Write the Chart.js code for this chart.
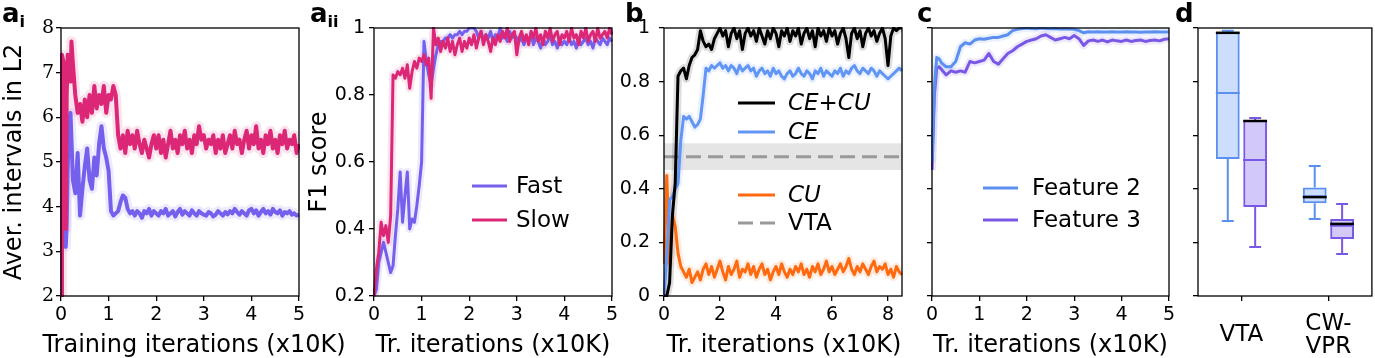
<!DOCTYPE html>
<html lang="en">
<head>
<meta charset="UTF-8">
<title>Training curves and box plots</title>
<script src="https://cdn.jsdelivr.net/npm/chart.js"></script>
<style>
  body { margin: 0; width: 1375px; height: 358px; background: #fff; position: relative; overflow: hidden;
         font-family: "DejaVu Sans", sans-serif; }
  .panel { position: absolute; top: 0; height: 358px; }
  .tag { position: absolute; top: 0; font-weight: bold; font-size: 26px; line-height: 1; color: #000; }
  .tag sub { font-size: 16px; vertical-align: -5px; }
</style>
</head>
<body>
<div class="panel" style="left:0px;width:362px"><canvas id="chartAi"></canvas></div>
<div class="panel" style="left:305px;width:317px"><canvas id="chartAii"></canvas></div>
<div class="panel" style="left:604px;width:308px"><canvas id="chartB"></canvas></div>
<div class="panel" style="left:912px;width:267px"><canvas id="chartC"></canvas></div>
<div class="panel" style="left:1178px;width:197px"><canvas id="chartD"></canvas></div>

<div class="tag" style="left:2px">a<sub>i</sub></div>
<div class="tag" style="left:310px">a<sub>ii</sub></div>
<div class="tag" style="left:625px">b</div>
<div class="tag" style="left:917px">c</div>
<div class="tag" style="left:1175px">d</div>

<script>
// ---- panel a_i : average intervals in L2 ----
const aiIters = [0,0.02,0.04,0.06,0.08,0.1,0.12,0.14,0.16,0.18,0.2,0.22,
  0.25,0.3,0.35,0.4,0.45,0.5,0.55,0.6,0.65,0.7,0.75,0.8,0.85,0.9,0.95,1,
  1.05,1.1,1.15,1.2,1.25,1.3,1.35,1.4,1.45,1.5,1.55,1.6,1.65,1.7,1.75,1.8,1.85,1.9,1.95,2,
  2.05,2.1,2.15,2.2,2.25,2.3,2.35,2.4,2.45,2.5,2.55,2.6,2.65,2.7,2.75,2.8,2.85,2.9,2.95,3,
  3.05,3.1,3.15,3.2,3.25,3.3,3.35,3.4,3.45,3.5,3.55,3.6,3.65,3.7,3.75,3.8,3.85,3.9,3.95,4,
  4.05,4.1,4.15,4.2,4.25,4.3,4.35,4.4,4.45,4.5,4.55,4.6,4.65,4.7,4.75,4.8,4.85,4.9,4.95,5];
const aiSlow = [2.0,7.4,7.3,7.2,5.0,3.5,6.5,7.4,7.0,7.3,6.8,7.7,
  7.2,6.5,6.1,6.3,5.9,6.4,6.0,6.5,6.1,6.7,6.2,6.5,6.3,6.7,6.1,6.5,
  6.4,6.7,6.5,5.6,5.3,5.6,5.2,5.7,5.4,5.6,5.3,5.7,5.4,5.2,5.5,5.3,5.1,5.4,5.6,5.3,
  5.6,5.2,5.5,5.1,5.4,5.7,5.3,5.5,5.2,5.6,5.4,5.7,5.3,5.5,5.2,5.6,5.4,5.8,5.5,5.6,
  5.3,5.5,5.4,5.6,5.2,5.5,5.3,5.6,5.2,5.4,5.6,5.3,5.7,5.4,5.5,5.2,5.5,5.7,5.3,5.6,
  5.4,5.8,5.3,5.5,5.2,5.6,5.4,5.7,5.3,5.5,5.2,5.6,5.4,5.7,5.3,5.5,5.4,5.6,5.2,5.4];
const aiFast = [6.9,6.0,4.8,3.8,3.2,3.1,3.6,4.8,5.6,6.0,6.1,5.5,
  4.6,4.3,5.2,3.8,4.4,4.9,5.3,4.6,4.4,5.1,4.7,5.4,5.8,5.3,5.1,4.8,
  3.9,3.8,3.85,3.9,4.1,4.25,4.2,3.95,3.85,3.9,3.8,3.9,3.85,3.75,3.9,3.85,3.95,3.8,3.9,3.85,
  3.8,3.9,3.85,3.95,3.8,3.85,3.9,3.78,3.88,3.95,3.82,3.9,3.85,3.8,3.92,3.85,3.8,3.9,3.85,3.82,
  3.8,3.88,3.85,3.78,3.82,3.9,3.85,3.8,3.88,3.83,3.9,3.85,3.95,3.88,3.82,3.9,3.85,3.8,3.92,3.95,
  3.85,3.92,3.8,3.88,3.95,3.85,3.9,3.82,3.95,3.88,3.85,3.92,3.8,3.88,3.85,3.9,3.82,3.85,3.8,3.82];

// ---- panel a_ii : F1 score ----
const aiiIters = [0,0.05,0.1,0.15,0.2,0.25,0.3,0.35,0.4,0.45,0.5,0.55,0.6,0.65,0.7,0.75,0.8,0.85,0.9,0.95,
  1,1.05,1.1,1.15,1.2,1.25,1.3,1.35,1.4,1.45,1.5,1.55,1.6,1.65,1.7,1.75,1.8,1.85,1.9,1.95,
  2,2.05,2.1,2.15,2.2,2.25,2.3,2.35,2.4,2.45,2.5,2.55,2.6,2.65,2.7,2.75,2.8,2.85,2.9,2.95,
  3,3.05,3.1,3.15,3.2,3.25,3.3,3.35,3.4,3.45,3.5,3.55,3.6,3.65,3.7,3.75,3.8,3.85,3.9,3.95,
  4,4.05,4.1,4.15,4.2,4.25,4.3,4.35,4.4,4.45,4.5,4.55,4.6,4.65,4.7,4.75,4.8,4.85,4.9,4.95,5];
const aiiSlow = [0.2,0.28,0.33,0.42,0.38,0.41,0.36,0.44,0.86,0.85,0.87,0.86,0.88,0.85,0.89,0.82,0.87,0.9,0.88,0.91,
  0.9,0.92,0.89,0.91,0.79,1.0,0.95,0.97,0.93,0.96,0.94,0.97,0.93,0.96,0.92,0.95,0.97,0.93,0.96,0.94,
  0.97,0.95,0.98,0.94,0.97,0.99,0.95,0.98,0.96,0.93,0.97,0.95,0.98,0.96,0.99,0.97,1.0,0.96,0.98,0.99,
  0.92,0.97,0.99,0.96,0.98,0.95,0.99,0.97,1.0,0.96,0.98,0.95,0.99,0.97,1.0,0.96,0.98,0.99,0.95,0.98,
  0.97,0.99,0.96,1.0,0.97,0.98,0.95,0.99,0.97,1.0,0.96,0.98,0.99,0.96,1.0,0.97,0.98,0.99,0.97,1.0,0.98];
const aiiFast = [0.2,0.22,0.3,0.33,0.36,0.33,0.3,0.27,0.29,0.38,0.46,0.57,0.42,0.5,0.57,0.4,0.43,0.42,0.47,0.53,
  0.6,0.96,0.9,0.86,0.83,0.88,0.92,0.95,0.96,0.96,0.97,0.97,0.98,0.97,0.98,0.98,0.99,0.98,0.99,0.99,
  1.0,1.0,1.0,0.99,0.97,0.99,0.96,0.98,0.97,0.99,0.96,0.98,0.97,1.0,0.97,0.98,0.96,0.99,0.97,0.98,
  0.97,0.96,0.97,0.95,0.97,0.96,0.98,0.95,0.97,0.96,0.94,0.97,0.95,0.96,0.98,0.95,0.96,0.94,0.97,0.95,
  0.96,0.95,0.97,0.95,0.96,0.94,0.97,0.95,0.96,0.97,0.95,0.96,0.94,0.97,0.96,0.95,0.97,0.96,0.95,0.97,0.96];

// ---- panel b : readout F1 ----
const bIters = [0,0.1,0.2,0.3,0.4,0.5,0.6,0.7,0.8,0.9,
  1,1.1,1.2,1.3,1.4,1.5,1.6,1.7,1.8,1.9, 2,2.1,2.2,2.3,2.4,2.5,2.6,2.7,2.8,2.9,
  3,3.1,3.2,3.3,3.4,3.5,3.6,3.7,3.8,3.9, 4,4.1,4.2,4.3,4.4,4.5,4.6,4.7,4.8,4.9,
  5,5.1,5.2,5.3,5.4,5.5,5.6,5.7,5.8,5.9, 6,6.1,6.2,6.3,6.4,6.5,6.6,6.7,6.8,6.9,
  7,7.1,7.2,7.3,7.4,7.5,7.6,7.7,7.8,7.9, 8,8.1,8.2,8.3,8.4,8.5];
const bCeCu = [0,0,0.05,0.3,0.42,0.82,0.84,0.85,0.81,0.86,
  0.89,0.9,0.92,0.99,0.95,0.93,0.94,0.92,0.96,0.98, 1.0,0.97,0.99,0.93,0.98,1.0,0.96,0.99,0.92,0.98,
  1.0,0.97,0.99,0.95,1.0,0.97,0.94,0.99,0.96,1.0, 0.98,0.93,0.99,0.97,1.0,0.95,0.99,0.97,1.0,0.94,
  0.98,1.0,0.96,0.99,0.93,1.0,0.97,0.99,0.95,1.0, 0.97,0.99,0.94,0.98,1.0,0.96,0.89,0.98,1.0,0.96,
  0.99,0.93,0.98,1.0,0.97,0.99,0.95,0.98,1.0,0.96, 0.86,0.97,1.0,0.99,1.0,1.0];
const bCe = [0,0.15,0.36,0.37,0.4,0.42,0.58,0.67,0.66,0.67,
  0.65,0.63,0.64,0.66,0.75,0.85,0.84,0.86,0.85,0.86, 0.87,0.85,0.86,0.84,0.86,0.85,0.83,0.86,0.84,0.85,
  0.86,0.84,0.85,0.82,0.84,0.85,0.83,0.84,0.82,0.85, 0.83,0.84,0.82,0.81,0.83,0.84,0.82,0.83,0.85,0.83,
  0.82,0.84,0.83,0.81,0.84,0.83,0.85,0.82,0.84,0.83, 0.82,0.84,0.83,0.85,0.82,0.84,0.83,0.85,0.86,0.84,
  0.83,0.85,0.84,0.83,0.85,0.84,0.82,0.84,0.83,0.82, 0.81,0.82,0.83,0.84,0.85,0.84];
const bCu = [0.12,0.45,0.12,0.3,0.26,0.16,0.11,0.09,0.07,0.1,
  0.05,0.07,0.09,0.06,0.1,0.12,0.08,0.11,0.07,0.1, 0.13,0.09,0.06,0.11,0.08,0.1,0.13,0.07,0.1,0.09,
  0.12,0.08,0.11,0.07,0.1,0.12,0.08,0.1,0.06,0.09, 0.11,0.08,0.12,0.09,0.07,0.1,0.08,0.11,0.09,0.12,
  0.08,0.1,0.07,0.11,0.09,0.12,0.08,0.1,0.13,0.09, 0.11,0.08,0.1,0.12,0.09,0.11,0.14,0.1,0.08,0.11,
  0.09,0.12,0.1,0.08,0.11,0.13,0.09,0.11,0.1,0.12, 0.08,0.1,0.07,0.11,0.09,0.08];
const vtaSpan = [0, 8.5];
const vtaMean = 0.52;
const vtaLow = 0.47;
const vtaHigh = 0.57;

// ---- panel c : features ----
const cIters = [0,0.05,0.1,0.15,0.2,
  0.3,0.4,0.5,0.6,0.7,0.8,0.9,1,1.1,1.2, 1.3,1.4,1.5,1.6,1.7,1.8,1.9,2,2.1,2.2,
  2.3,2.4,2.5,2.6,2.7,2.8,2.9,3,3.1,3.2, 3.3,3.4,3.5,3.6,3.7,3.8,3.9,4,4.1,4.2,
  4.3,4.4,4.5,4.6,4.7,4.8,4.9,5];
const cFeature2 = [0.5,0.78,0.89,0.885,0.87,
  0.855,0.855,0.875,0.93,0.945,0.94,0.955,0.96,0.958,0.962, 0.965,0.965,0.97,0.975,0.99,0.995,0.998,1.0,0.998,0.997,
  1.0,0.998,0.997,0.998,0.996,0.997,0.996,0.995,0.99,0.982, 0.986,0.985,0.986,0.985,0.985,0.986,0.985,0.985,0.986,0.985,
  0.985,0.984,0.985,0.985,0.986,0.985,0.985,0.985];
const cFeature3 = [0.47,0.75,0.85,0.855,0.845,
  0.825,0.84,0.835,0.84,0.835,0.875,0.87,0.875,0.88,0.905, 0.875,0.865,0.885,0.905,0.915,0.93,0.94,0.95,0.955,0.96,
  0.97,0.975,0.965,0.955,0.96,0.965,0.96,0.972,0.96,0.935, 0.952,0.955,0.95,0.955,0.948,0.955,0.952,0.95,0.955,0.95,
  0.953,0.955,0.95,0.953,0.955,0.952,0.958,0.96];

// ---- panel d : box plots ----
const dGroups = ['VTA', ['CW-', 'VPR']];
const f2Min = [0.28, 0.287], f2Q1 = [0.511, 0.346], f2Median = [0.982, 0.369], f2Mean = [0.757, 0.372], f2Q3 = [0.985, 0.405], f2Max = [0.99, 0.485];
const f3Min = [0.183, 0.157], f3Q1 = [0.332, 0.213], f3Median = [0.653, 0.269], f3Mean = [0.507, 0.262], f3Q3 = [0.657, 0.287], f3Max = [0.664, 0.343];

// colours
const PURPLE = '#7560ee', PINK = '#dc2777', BLUE_B = '#6196f5', ORANGE = '#ff6a10';
const BLUE_C = '#5b8ff0', PURPLE_C = '#7a58e6';

Chart.defaults.font.family = '"DejaVu Sans", sans-serif';
Chart.defaults.color = '#000';
Chart.defaults.animation = false;

function pts(xs, ys) {
  return xs.map((x, i) => ({ x: x, y: ys[i] }));
}

function fade(hex, a) {
  const n = parseInt(hex.slice(1), 16);
  return 'rgba(' + (n >> 16) + ',' + ((n >> 8) & 255) + ',' + (n & 255) + ',' + a + ')';
}

// black box around the plot area, like matplotlib spines
const framePlugin = {
  id: 'frame',
  afterDraw(chart) {
    const a = chart.chartArea, ctx = chart.ctx;
    ctx.save();
    ctx.strokeStyle = '#000';
    ctx.lineWidth = 1.3;
    ctx.strokeRect(a.left, a.top, a.right - a.left, a.bottom - a.top);
    ctx.restore();
  }
};

// x axis title, free to run wider than the plot (chart.js would squeeze it)
const xTitle = {
  id: 'xTitle',
  afterDraw(chart, args, opts) {
    if (!opts.text) return;
    const a = chart.chartArea, ctx = chart.ctx;
    ctx.save();
    ctx.fillStyle = '#000';
    ctx.font = '24px "DejaVu Sans", sans-serif';
    ctx.textAlign = 'center';
    ctx.textBaseline = 'middle';
    ctx.fillText(opts.text, (a.left + a.right) / 2 + (opts.dx || 0), 346);
    ctx.restore();
  }
};

// legend drawn inside the plot area
const inlineLegend = {
  id: 'inlineLegend',
  afterDraw(chart, args, opts) {
    if (!opts.items) return;
    const ctx = chart.ctx;
    ctx.save();
    opts.items.forEach(it => {
      const ds = chart.data.datasets[it.ds];
      ctx.strokeStyle = ds.borderColor;
      ctx.lineWidth = 3;
      ctx.setLineDash(ds.borderDash || []);
      ctx.beginPath();
      ctx.moveTo(opts.x0, it.y);
      ctx.lineTo(opts.x1, it.y);
      ctx.stroke();
      ctx.setLineDash([]);
      ctx.fillStyle = '#000';
      ctx.font = (it.italic ? 'italic ' : '') + '23px "DejaVu Sans", sans-serif';
      ctx.textBaseline = 'middle';
      ctx.fillText(ds.label, opts.tx, it.y + 1);
    });
    ctx.restore();
  }
};

// whiskers, mean and median lines on top of floating bars
const boxWhiskers = {
  id: 'boxWhiskers',
  afterDatasetsDraw(chart, args, opts) {
    if (!opts.stats) return;
    const ctx = chart.ctx, ys = chart.scales.y;
    ctx.save();
    opts.stats.forEach((st, di) => {
      chart.getDatasetMeta(di).data.forEach((bar, i) => {
        const x = bar.x, half = bar.width / 2, cap = half * 0.5;
        const yMin = ys.getPixelForValue(st.min[i]), yMax = ys.getPixelForValue(st.max[i]);
        const yQ1 = ys.getPixelForValue(st.q1[i]), yQ3 = ys.getPixelForValue(st.q3[i]);
        ctx.strokeStyle = st.color;
        ctx.lineWidth = 2;
        ctx.beginPath();
        ctx.moveTo(x, yQ1); ctx.lineTo(x, yMin);
        ctx.moveTo(x - cap, yMin); ctx.lineTo(x + cap, yMin);
        ctx.moveTo(x, yQ3); ctx.lineTo(x, yMax);
        ctx.moveTo(x - cap, yMax); ctx.lineTo(x + cap, yMax);
        const yMean = ys.getPixelForValue(st.mean[i]);
        ctx.moveTo(x - half, yMean); ctx.lineTo(x + half, yMean);
        ctx.stroke();
        ctx.strokeStyle = '#000';
        ctx.lineWidth = 2.5;
        const yMed = ys.getPixelForValue(st.median[i]);
        ctx.beginPath();
        ctx.moveTo(x - half, yMed); ctx.lineTo(x + half, yMed);
        ctx.stroke();
      });
    });
    ctx.restore();
  }
};

Chart.register(framePlugin, xTitle, inlineLegend, boxWhiskers);

function tickText(v) {
  return String(Number(v.toFixed(2)));
}

function axisX(min, max, step) {
  return {
    type: 'linear', min: min, max: max,
    ticks: { stepSize: step, includeBounds: false, font: { size: 19 }, padding: 3, color: '#000', maxRotation: 0, callback: tickText },
    grid: { drawOnChartArea: false, tickLength: 5, color: '#000', lineWidth: 1.3 },
    border: { display: false },
    afterFit(s) { s.height = 62; }
  };
}

function axisY(min, max, step, o) {
  return {
    min: min, max: max,
    ticks: { stepSize: step, display: o.labels !== false, padding: o.pad || 0, font: o.font || { size: 19 }, color: '#000', callback: tickText },
    grid: { drawOnChartArea: false, tickLength: 5, color: '#000', lineWidth: 1.3 },
    border: { display: false },
    title: { display: !!o.title, text: o.title || '', font: { size: 24 }, padding: 0, color: '#000' },
    afterFit(s) { s.width = o.width; }
  };
}

function line(label, xs, ys, color, width) {
  return { label: label, data: pts(xs, ys), borderColor: color, borderWidth: width, clip: 1 };
}
function halo(xs, ys, color, width) {
  return { label: '', data: pts(xs, ys), borderColor: fade(color, 0.13), borderWidth: width, clip: 0 };
}

function linePanel(id, datasets, xAxis, yAxis, title, legend, padRight) {
  return new Chart(document.getElementById(id), {
    type: 'line',
    data: { datasets: datasets },
    options: {
      responsive: true, maintainAspectRatio: false, animation: false,
      layout: { padding: { top: 28, right: padRight || 10, left: 0, bottom: 0 } },
      elements: { point: { radius: 0 }, line: { tension: 0, borderJoinStyle: 'round' } },
      plugins: { legend: { display: false }, tooltip: { enabled: false }, xTitle: title, inlineLegend: legend || {} },
      scales: { x: xAxis, y: yAxis }
    }
  });
}

// a_i
linePanel('chartAi', [
  line('Slow', aiIters, aiSlow, PINK, 4),
  line('Fast', aiIters, aiFast, PURPLE, 4),
  halo(aiIters, aiSlow, PINK, 10),
  halo(aiIters, aiFast, PURPLE, 10)
], axisX(0, 5, 1),
   axisY(2, 8, 1, { width: 61, pad: 2, title: 'Aver. intervals in L2', font: { family: '"DejaVu Serif", serif', size: 19 } }),
   { text: 'Training iterations (x10K)', dx: 14 }, null, 63);

// a_ii
linePanel('chartAii', [
  line('Slow', aiiIters, aiiSlow, PINK, 3),
  line('Fast', aiiIters, aiiFast, PURPLE, 3),
  halo(aiiIters, aiiSlow, PINK, 8),
  halo(aiiIters, aiiFast, PURPLE, 8)
], axisX(0, 5, 1),
   axisY(0.2, 1, 0.2, { width: 69, pad: 4, title: 'F1 score' }),
   { text: 'Tr. iterations (x10K)' },
   { x0: 167, x1: 202, tx: 211, items: [{ ds: 1, y: 186 }, { ds: 0, y: 220 }] });

// b
linePanel('chartB', [
  line('CE+CU', bIters, bCeCu, '#000000', 3),
  line('CE', bIters, bCe, BLUE_B, 3),
  line('CU', bIters, bCu, ORANGE, 3),
  halo(bIters, bCeCu, '#000000', 8),
  halo(bIters, bCe, BLUE_B, 8),
  halo(bIters, bCu, ORANGE, 8),
  { label: 'VTA', data: pts(vtaSpan, [vtaMean, vtaMean]), borderColor: '#999999', borderWidth: 3, borderDash: [15, 7] },
  { label: '', data: pts(vtaSpan, [vtaHigh, vtaHigh]), borderWidth: 0, borderColor: 'rgba(0,0,0,0)',
    fill: { value: vtaLow }, backgroundColor: 'rgba(0,0,0,0.1)' }
], axisX(0, 8.5, 2),
   axisY(0, 1, 0.2, { width: 60, pad: 9 }),
   { text: 'Tr. iterations (x10K)', dx: 1 },
   { x0: 134, x1: 171, tx: 184, items: [
     { ds: 0, y: 103, italic: true }, { ds: 1, y: 132, italic: true },
     { ds: 2, y: 195, italic: true }, { ds: 6, y: 223 }] });

// c
linePanel('chartC', [
  line('Feature 2', cIters, cFeature2, BLUE_C, 3),
  line('Feature 3', cIters, cFeature3, PURPLE_C, 3),
  halo(cIters, cFeature2, BLUE_C, 8),
  halo(cIters, cFeature3, PURPLE_C, 8)
], axisX(0, 5, 1),
   axisY(0, 1, 0.2, { width: 20, labels: false }),
   { text: 'Tr. iterations (x10K)' },
   { x0: 71, x1: 106, tx: 120, items: [{ ds: 0, y: 188 }, { ds: 1, y: 220 }] });

// d
new Chart(document.getElementById('chartD'), {
  type: 'bar',
  data: {
    labels: dGroups,
    datasets: [
      { label: 'Feature 2', data: f2Q1.map((v, i) => [v, f2Q3[i]]), backgroundColor: 'rgba(110,160,245,0.35)',
        borderColor: BLUE_C, borderWidth: 2, borderSkipped: false },
      { label: 'Feature 3', data: f3Q1.map((v, i) => [v, f3Q3[i]]), backgroundColor: 'rgba(130,100,235,0.35)',
        borderColor: PURPLE_C, borderWidth: 2, borderSkipped: false }
    ]
  },
  options: {
    responsive: true, maintainAspectRatio: false, animation: false,
    layout: { padding: { top: 28, right: 2, left: 0, bottom: 0 } },
    datasets: { bar: { categoryPercentage: 0.63, barPercentage: 0.87 } },
    plugins: {
      legend: { display: false }, tooltip: { enabled: false },
      boxWhiskers: { stats: [
        { color: BLUE_C, min: f2Min, q1: f2Q1, median: f2Median, mean: f2Mean, q3: f2Q3, max: f2Max },
        { color: PURPLE_C, min: f3Min, q1: f3Q1, median: f3Median, mean: f3Mean, q3: f3Q3, max: f3Max }
      ] }
    },
    scales: {
      x: {
        ticks: { font: { size: 23, lineHeight: 1.0 }, padding: 23, color: '#000', crossAlign: 'center', maxRotation: 0 },
        grid: { drawOnChartArea: false, tickLength: 5, color: '#000', lineWidth: 1.3, offset: false },
        border: { display: false },
        afterFit(s) { s.height = 62; }
      },
      y: axisY(0, 1, 0.2, { width: 20, labels: false })
    }
  }
});
</script>
</body>
</html>
